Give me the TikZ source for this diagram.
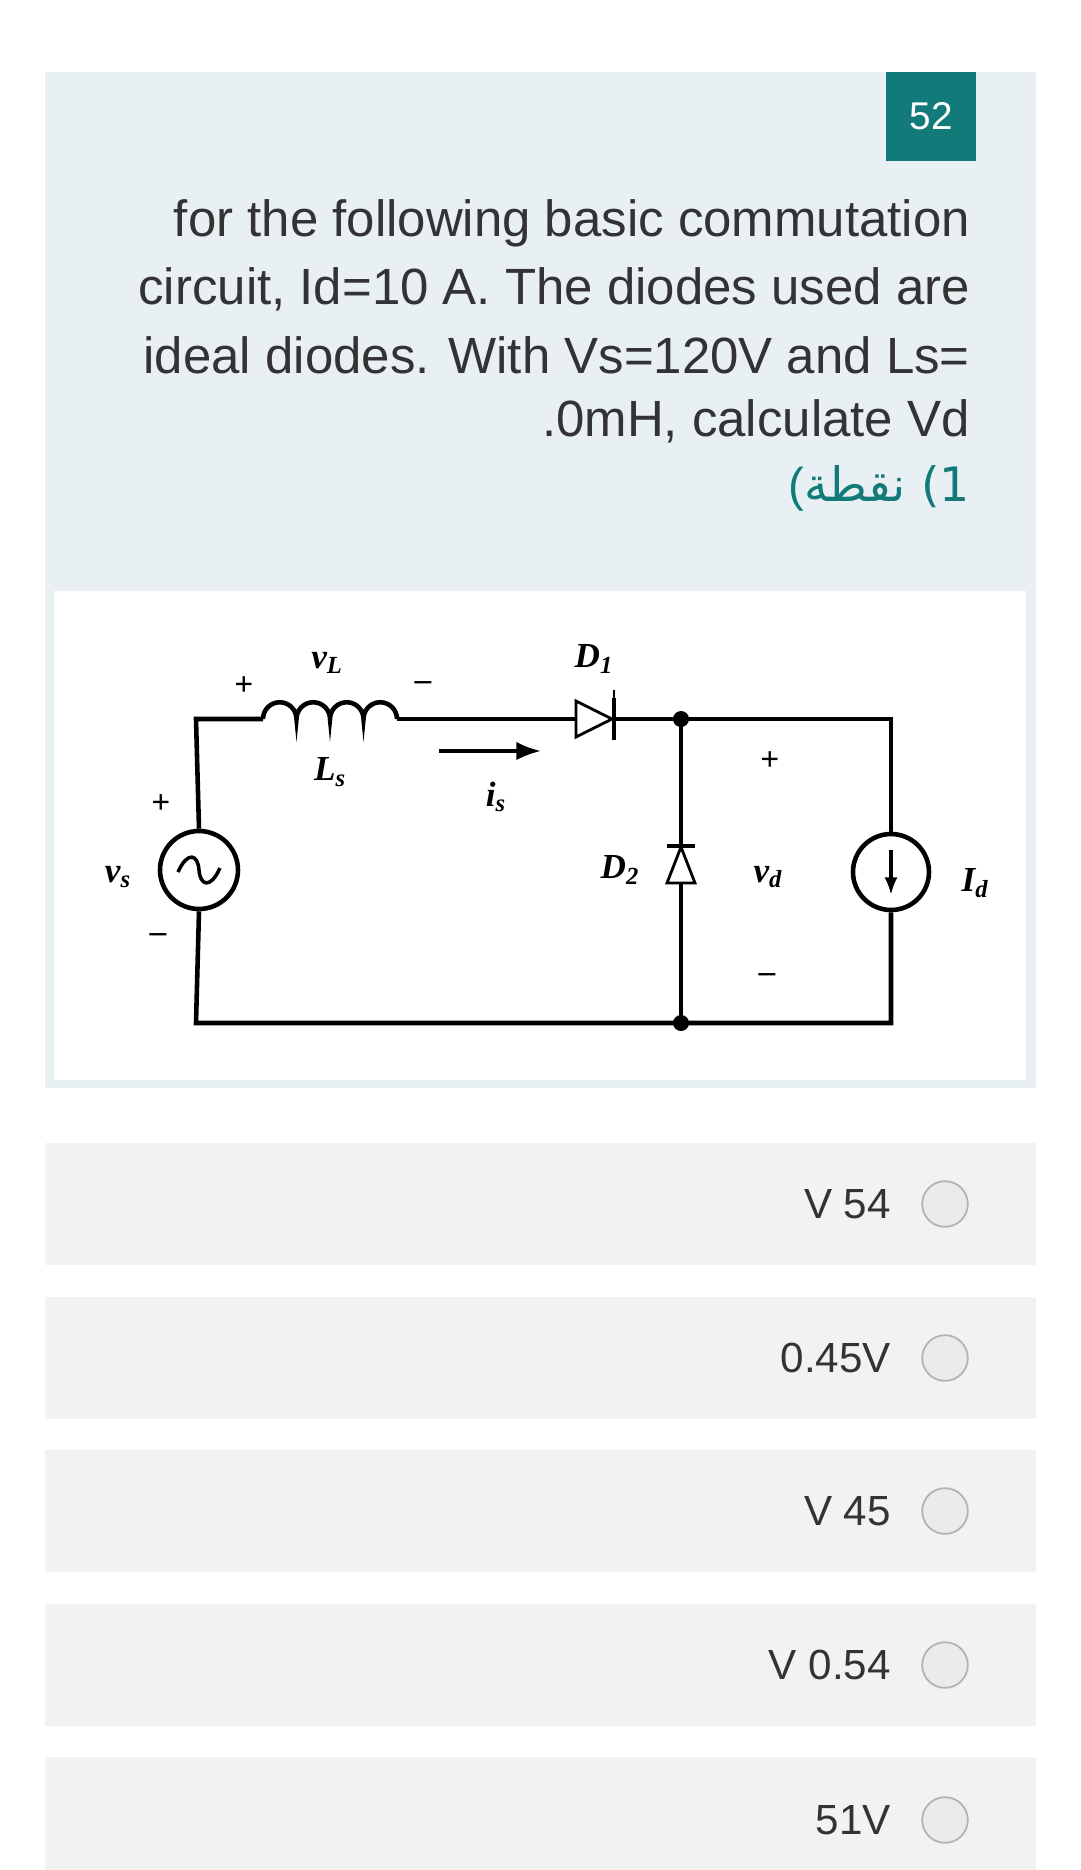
\documentclass[tikz,border=0pt]{standalone}
\usetikzlibrary{arrows.meta}
\usepackage{fontspec}
\setmainfont{Liberation Sans}
\newfontfamily\arabicfont[Script=Arabic]{DejaVu Sans}
\newfontfamily\circfont{Liberation Serif}
\TeXXeTstate=1
\definecolor{cardbg}{HTML}{E8F0F3}
\definecolor{optbg}{HTML}{F2F2F2}
\definecolor{teal}{HTML}{137A7A}
\definecolor{txt}{HTML}{333333}
\tikzset{
 wire/.style={line width=2.6pt},
 clab/.style={font=\circfont\bfseries\itshape\fontsize{20}{20}\selectfont},
 sgn/.style={font=\circfont\bfseries\fontsize{19}{19}\selectfont},
 qtxt/.style={anchor=east,text=txt,font=\fontsize{29}{29}\selectfont},
 opt/.style={anchor=east,text=txt,font=\fontsize{24}{24}\selectfont},
 radio/.style={circle,draw=black!30,fill=black!8,line width=1pt,minimum size=26pt,inner sep=0pt},
}
\begin{document}
\begin{tikzpicture}[x=0.02cm,y=-0.02cm]
\useasboundingbox[fill=white] (0,0) rectangle (1080,1870);
% question card
\fill[cardbg] (45,72) rectangle (1036,1088);
\fill[teal] (886,72) rectangle (976,161);
\node[text=white,font=\fontsize{22}{22}\selectfont] (num) at (931,116) {52};
\node[qtxt] (q1) at (976,223) {for the following basic commutation};
\node[qtxt] (q2) at (976,289) {circuit, Id=10 A. The diodes used are};
\node[qtxt] (q3) at (976,355) {ideal diodes. With Vs=120V and Ls=};
\node[qtxt] (q4) at (976,421) {.0mH, calculate Vd};
\node[anchor=east,text=teal,font=\fontsize{27}{27}\selectfont] (pts) at (976,488) {(\arabicfont\beginR نقطة\endR{} 1)};
% circuit panel
\fill[white] (54,591) rectangle (1026,1080);
\coordinate (tl) at (196,719); \coordinate (bl) at (196,1023);
\coordinate (tr) at (891,719); \coordinate (br) at (891,1023);
\coordinate (jt) at (681,719); \coordinate (jb) at (681,1023);
\node[circle,draw,line width=2.6pt,minimum size=1.56cm,inner sep=0pt] (vs) at (199,870) {};
\node[circle,draw,line width=2.6pt,minimum size=1.52cm,inner sep=0pt] (id) at (891,872) {};
\draw[wire] (vs.north) -- (tl) -- (263,719);
\draw[wire] (263,719) arc(180:360:16.75) arc(180:360:16.75) arc(180:360:16.75) arc(180:360:16.75);
\draw[wire] (397,719) -- (576,719);
\draw[wire] (614,719) -- (jt) -- (tr) -- (id.north);
\draw[wire] (vs.south) -- (bl) -- (jb) -- (br) -- (id.south);
% D1
\draw[line width=1.6pt,fill=white] (576,701) -- (612,719) -- (576,737) -- cycle;
\draw[line width=2.4pt] (614,698) -- (614,740);
\draw[line width=1.6pt] (614,690) -- (614,698);
% D2
\draw[wire] (jt) -- (681,845);
\draw[wire] (681,883) -- (jb);
\draw[line width=1.6pt,fill=white] (667,883) -- (681,847) -- (695,883) -- cycle;
\draw[line width=2.4pt] (667,846) -- (695,846);
\fill (jt) circle (8); \fill (jb) circle (8);
% source symbols
\draw[line width=2pt] (178,872) .. controls (188,850) and (198,855) .. (199,870) .. controls (200,885) and (210,890) .. (220,868);
\draw[line width=2pt,-{Latex[length=10pt]}] (891,850) -- (891,895);
% current arrow
\draw[line width=2pt,-{Latex[length=14pt]}] (439,751) -- (541,751);
% labels
\node[clab] (lvl) at (327,663) {v\textsubscript{\itshape L}};
\node[sgn] (p1) at (244,686) {+}; \node[sgn] (m1) at (423,686) {\textendash};
\node[clab] (lls) at (330,772) {L\textsubscript{\itshape s}};
\node[clab] (lis) at (496,797) {i\textsubscript{\itshape s}};
\node[clab] (ld1) at (594,659) {D\textsubscript{1}};
\node[sgn] (p2) at (161,804) {+}; \node[sgn] (m2) at (158,938) {\textendash};
\node[clab] (lvs) at (118,877) {v\textsubscript{\itshape s}};
\node[clab] (ld2) at (620,870) {D\textsubscript{2}};
\node[sgn] (p3) at (770,761) {+}; \node[sgn] (m3) at (767,978) {\textendash};
\node[clab] (lvd) at (768,877) {v\textsubscript{\itshape d}};
\node[clab] (lid) at (975,883) {I\textsubscript{\itshape d}};
% options
\foreach \t/\y/\h in {V 54/1204/61, 0.45V/1358/61, V 45/1511/61, V 0.54/1665/61, 51V/1820/63}{
  \fill[optbg] (45,\y-\h) rectangle (1036,\y+\h);
  \node[radio] at (945,\y) {};
  \node[opt] at (897,\y) {\t};
}
\end{tikzpicture}
\end{document}
